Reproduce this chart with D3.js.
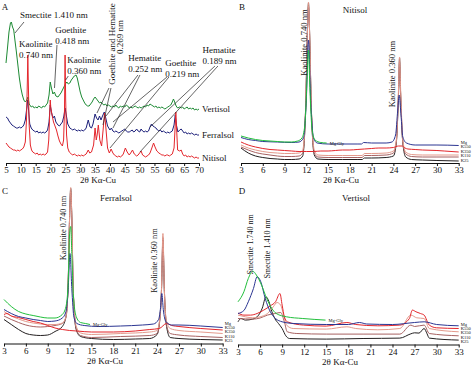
<!DOCTYPE html>
<html>
<head>
<meta charset="utf-8">
<script src="https://cdn.jsdelivr.net/npm/d3@7"></script>
<style>
  body { margin: 0; background: #fff; }
</style>
</head>
<body>
<div id="chart"></div>
<script>
// ---- panel A : bulk XRD, [2theta, intensity]
var ticksA = [5, 10, 15, 20, 25, 30, 35, 40, 45, 50, 55, 60, 65, 70];
var ticksClay = [3, 6, 9, 12, 15, 18, 21, 24, 27, 30, 33];
var soils = ["Vertisol", "Ferralsol", "Nitisol"];
var treatments = ["Mg", "K550", "K350", "K110", "K25"];

var vertisol = [[5,100],[5.5,115],[6,131],[6.5,140],[6.8,141],[7.2,136],[7.6,133],[8,123],[8.5,111],[9,98],[9.5,85],[10,75],[10.5,68],[11,63],[11.5,61],[12,63],[12.4,66],[12.8,59],[13.5,56],[14,57],[14.5,55],[15,56],[15.5,55],[16,57],[16.5,56],[17,55],[17.5,57],[18,56],[18.5,58],[19,60],[19.5,68],[19.9,81],[20.3,75],[20.8,69],[21.3,71],[21.8,67],[22.5,66],[23,68],[23.5,70],[24,73],[24.5,76],[25,79],[25.5,81],[26,79],[26.5,80],[27,83],[27.5,85],[28,87],[28.6,88],[29,85],[29.5,78],[30,71],[30.5,66],[31,63],[31.5,60],[32,58],[32.5,57],[33,57],[33.5,59],[34,61],[34.5,64],[35,66],[35.5,64],[36,62],[36.5,60],[37,61],[37.5,59],[38,58],[38.5,59],[39,57],[39.5,58],[40,57],[40.5,56],[41,57],[41.5,56],[42,58],[42.5,56],[43,55],[43.5,57],[44,56],[44.5,57],[45,56],[45.5,58],[46,57],[46.5,55],[47,56],[47.5,55],[48,56],[48.5,57],[49,56],[49.5,55],[50,56],[50.5,55],[51,56],[51.5,57],[52,56],[52.5,58],[53,57],[53.5,59],[54,58],[54.5,57],[55,56],[55.5,57],[56,55],[56.5,56],[57,55],[57.5,56],[58,55],[58.5,54],[59,55],[59.5,56],[60,57],[60.5,58],[61,61],[61.4,64],[61.8,61],[62.3,57],[62.8,55],[63.5,56],[64,55],[64.5,56],[65,54],[65.5,55],[66,56],[66.5,54],[67,55],[67.5,54],[68,55],[68.5,53],[69,54],[69.5,53],[70,54]];

var ferralsol = [[5,46],[5.5,45],[6,42],[6.5,40],[7,38],[7.5,37],[8,36],[8.5,35],[9,35],[9.5,36],[10,35],[10.5,36],[11,38],[11.5,43],[12,55],[12.3,63],[12.6,53],[13,39],[13.5,35],[14,33],[14.5,32],[15,31],[15.5,32],[16,30],[16.5,31],[17,30],[17.5,31],[18,30],[18.5,31],[19,33],[19.5,41],[19.9,58],[20.3,51],[20.8,45],[21.3,47],[21.8,41],[22.5,38],[23,37],[23.5,39],[24,41],[24.5,47],[24.9,55],[25.3,48],[25.8,39],[26.5,35],[27,34],[27.5,33],[28,34],[28.5,33],[29,32],[29.5,33],[30,32],[30.5,33],[31,32],[31.5,33],[32,35],[32.7,43],[33.3,36],[33.8,35],[34.3,39],[35,49],[35.5,45],[36,43],[36.5,47],[37,43],[37.5,47],[38.1,51],[38.6,45],[39.2,37],[40,33],[40.5,35],[41,32],[41.5,31],[42,32],[42.5,31],[43,30],[43.5,31],[44,32],[44.5,33],[45,34],[45.5,32],[46,31],[46.5,31],[47,32],[47.5,33],[48,31],[48.5,32],[49,34],[49.5,32],[50,31],[50.5,34],[51,32],[51.5,31],[52,32],[52.5,31],[53,32],[53.5,36],[54,39],[54.5,37],[55,36],[55.5,35],[56,33],[56.5,32],[57,33],[57.5,31],[58,32],[58.5,31],[59,30],[59.5,31],[60,30],[60.5,31],[61,32],[61.6,38],[62,48],[62.4,38],[62.9,31],[63.5,33],[64,34],[64.5,32],[65,30],[65.5,31],[66,29],[66.5,30],[67,29],[67.5,30],[68,29],[68.5,28],[69,29],[69.5,28],[70,28]];

var nitisol = [[5,20],[5.5,18],[6,16],[6.5,15],[7,14],[7.5,13],[8,13],[8.5,12],[9,13],[9.5,12],[10,13],[10.5,14],[11,16],[11.5,21],[11.9,43],[12.2,83],[12.35,108],[12.5,83],[12.8,38],[13.2,18],[13.6,13],[14,11],[14.5,10],[15,9],[15.5,10],[16,8],[16.5,9],[17,8],[17.5,9],[18,8],[18.5,9],[19,11],[19.4,23],[19.7,48],[19.9,63],[20.1,55],[20.5,48],[21,41],[21.5,37],[22,33],[22.5,27],[23,22],[23.5,19],[24,17],[24.4,23],[24.7,53],[24.9,108],[25.1,63],[25.4,28],[25.8,15],[26.3,11],[27,9],[27.5,8],[28,9],[28.5,8],[29,7],[29.5,8],[30,7],[30.5,8],[31,7],[31.5,8],[32,9],[32.7,13],[33.2,10],[33.8,11],[34.5,18],[35,35],[35.4,23],[35.7,28],[36.1,38],[36.6,23],[37.2,17],[37.7,33],[38.2,50],[38.7,33],[39.2,15],[39.8,10],[40.4,14],[41,10],[41.5,8],[42,7],[42.5,6],[43,7],[43.5,6],[44,7],[44.5,9],[45.2,15],[45.8,11],[46.5,8],[47,10],[47.6,13],[48.2,9],[49,7],[49.5,8],[50.5,12],[51,8],[51.5,7],[52,6],[52.5,7],[53,8],[53.5,10],[54,14],[54.7,20],[55.2,16],[55.8,12],[56.5,10],[57,9],[57.5,8],[58,8],[58.5,7],[59,8],[59.5,8],[60,7],[60.5,8],[61,9],[61.6,15],[62,38],[62.2,51],[62.4,38],[62.8,13],[63.5,12],[64,13],[64.5,9],[65,7],[65.5,8],[66,6],[66.5,7],[67,6],[67.5,7],[68,6],[68.5,5],[69,6],[69.5,5],[70,5]];

// ---- panel B : Nitisol clay fraction
var nitMgGly = [[3,27],[4,25],[5,23.5],[6,22.5],[7,22],[8,21.5],[9,21],[10,21],[10.8,22],[11.4,25],[11.8,38],[12.1,83],[12.3,113],[12.5,73],[12.8,33],[13.2,23],[14,20.5],[14.8,20]];
var nitMg = [[3,25.5],[4,23.5],[5,22.5],[6,21.5],[8,21],[10,20.5],[11,21],[11.6,25],[12,63],[12.3,123],[12.6,63],[13,25],[13.5,20],[15,19],[17,19],[19,19],[19.6,19],[19.9,20.5],[21,20],[23,20],[23.8,21],[24.3,28],[24.6,53],[24.8,68],[25,53],[25.3,26],[25.8,20],[27,18],[30,18],[33,17.5]];
var nitK550 = [[3,21],[4,18],[5,16],[6,14.5],[7,13.5],[8,13],[9,12.5],[10,12],[11,11.5],[12,11.5],[13,11.5],[14,12],[15,12],[16,12.5],[17,13],[18,13],[19,13.5],[20,14],[21,14.5],[22,15],[23,15],[24,15.5],[24.7,17],[25.2,17],[25.6,15],[26,14],[27,13.5],[28,13],[30,12.5],[31,12],[33,11]];
var nitK350 = [[3,18],[4,15],[5,13],[6,11.5],[7,10.5],[8,10],[9,9.5],[10,9.5],[11,10],[11.5,13],[11.9,53],[12.2,143],[12.3,161],[12.4,143],[12.7,53],[13.1,13],[13.6,8],[15,7.5],[17,7.5],[19,7.5],[19.7,7.5],[20,9.5],[21,9.5],[23,10],[24,12],[24.4,23],[24.7,73],[24.85,106],[25,73],[25.3,23],[25.7,11],[26.5,8.5],[28,8],[30,8],[33,8]];
var nitK110 = [[3,16],[4,13],[5,10.5],[6,9],[7,8],[8,7],[9,6.5],[10,6.5],[11,7],[11.5,10],[11.9,53],[12.2,143],[12.3,157],[12.4,143],[12.7,53],[13.1,10],[13.6,6],[15,5.5],[17,5.5],[19,5.5],[19.7,5.5],[20,7.5],[21,7.5],[23,8],[24,10],[24.4,21],[24.7,68],[24.85,101],[25,68],[25.3,21],[25.7,9],[26.5,6.5],[28,6],[30,6],[33,6]];
var nitK25 = [[3,15],[4,10],[5,7],[6,5.5],[7,4.5],[8,4],[9,3.5],[10,3.5],[11,4],[11.5,7],[11.9,53],[12.2,143],[12.3,160],[12.4,143],[12.7,53],[13.1,8],[13.6,4],[15,3.5],[17,3.5],[19,3.5],[19.7,3.5],[20,5],[21,5],[23,5.5],[24,7],[24.4,20],[24.7,68],[24.85,105],[25,68],[25.3,20],[25.7,6],[26.5,3.5],[28,3],[30,2.5],[33,2]];

// ---- panel C : Ferralsol clay fraction
var ferMgGly = [[3,44],[4,37],[5,32],[6,29.5],[7,28],[8,26.5],[9,25.5],[10,25.5],[11,29],[11.5,37],[11.8,60],[12,110],[12.15,117],[12.3,90],[12.5,50],[12.9,27],[13.5,21],[14.2,20],[14.8,19]];
var ferMg = [[3,34],[4,30],[5,27],[6,25.5],[7,24],[8,23],[9,22],[10,22.5],[11,25.5],[11.5,32],[11.8,54],[12.05,90],[12.3,55],[12.6,26],[13,20],[14,18],[16,17],[19,17.5],[22,18.5],[23.5,19.5],[24.2,24],[24.45,34],[24.65,50],[24.85,34],[25.2,22],[26,18.5],[27,18.5],[30,17.5],[33,16]];
var ferK550 = [[3,29],[3.4,30],[4,27.5],[5,26],[6,24],[7,22],[8,20.5],[9,18],[10,15.5],[11,14],[12,13],[13,12.5],[15,11.5],[18,11.5],[21,12.5],[23,14],[24.3,15],[25.3,20],[26,18],[27,17],[30,15],[33,13.5]];
var ferK350 = [[3,32],[4,27.5],[5,24.5],[6,22],[7,20.5],[8,19.5],[9,19],[10,19],[11,20.5],[11.5,27],[11.8,60],[12,127],[12.15,156],[12.3,127],[12.5,53],[12.9,17.5],[13.5,10.5],[15,9],[19,10],[23,11.5],[24,13],[24.4,27],[24.6,53],[24.8,110],[25,53],[25.3,22],[25.8,15],[27,13],[30,11.5],[33,10]];
var ferK110 = [[3,27.5],[4,24],[5,21],[6,18.5],[7,17],[8,16.5],[9,17],[10,18],[11,20],[11.5,26],[11.8,60],[12,127],[12.15,152],[12.3,127],[12.5,53],[12.9,15],[13.5,8],[15,6],[19,7],[23,8],[24,10],[24.4,25],[24.6,52],[24.8,106],[25,52],[25.3,18],[25.8,10],[27,8.5],[30,7],[33,6]];
var ferK25 = [[3,24],[4,19],[5,14],[6,10],[7,8.5],[8,8],[9,8.5],[10,12],[11,17],[11.5,27],[11.8,60],[12,127],[12.15,155],[12.3,127],[12.5,53],[12.9,14],[13.5,7],[15,5],[18,4],[21,4.5],[23,5],[24,9],[24.4,27],[24.6,53],[24.8,103],[25,53],[25.3,17],[25.8,6],[27,5],[30,4],[33,3.5]];

// ---- panel D : Vertisol clay fraction
var verMgGly = [[3,42.7],[3.8,52.7],[4.4,66],[5,73.4],[5.5,69.4],[6.2,59.4],[6.9,46],[7.6,36],[8.2,31],[9.6,27.7],[11.8,26],[14.9,24.4]];
var verMg = [[3,31],[3.8,34],[4.4,42.7],[5.1,56],[5.6,67.7],[6.1,62.7],[6.7,46],[7.4,32.7],[8.1,26],[9,22.7],[10.6,21],[15,20],[18,20],[19.5,22],[20.5,20.5],[24,20],[27,22],[28.3,22.7],[30,20],[33,18.7]];
var verK550 = [[3,31.4],[3.8,29.4],[4.7,29.4],[5.6,31],[6.5,34.4],[7.4,38.7],[8.1,42.7],[8.7,51],[9,39.4],[9.3,27.7],[9.7,22.7],[11.9,19.4],[15,18.4],[17.8,22],[19,20],[22,18.7],[25,19.4],[26.3,26],[26.7,34.4],[27.2,32.7],[27.8,31],[28.3,29.4],[29,19.4],[30,16.7],[33,16]];
var verK350 = [[3,29.4],[4,27.7],[5,26.7],[6,27.7],[7,31],[7.8,37.7],[8.3,42],[8.8,39.4],[9.2,29.4],[9.6,19.4],[10.5,16],[15,15.4],[17.8,17.7],[19,16],[22,14.7],[25,16],[26.5,29.4],[27.3,26.7],[28.3,26],[29,16],[33,12.7]];
var verK110 = [[3,26],[5,25.4],[6,26.5],[7,29.4],[8,31],[8.8,32],[9.3,22.7],[9.7,12.7],[11,11],[15,10.4],[20,10.4],[25,10.4],[26.5,19.4],[27,18],[28.3,19.4],[29,11],[33,8.7]];
var verK25 = [[3,22.7],[3.4,26],[4,24.4],[5,25.4],[5.8,29.4],[6.3,36.4],[6.8,47.7],[7.2,43],[7.6,33],[8,26],[8.5,21],[9,16],[9.5,8.7],[10,6],[15,5.4],[20,6],[25,6.4],[26.5,10.7],[27,11.7],[27.6,11.4],[28.3,16],[28.7,10.7],[29,6.4],[33,4.4]];

var soilColors = ["#1d8a34", "#1c1f7a", "#e4262c"];
// Mg-Gly, Mg, K550, K350, K110, K25
var clayColors = ["#22bf3c", "#2b3592", "#e3262b", "#e49a8c", "#a86262", "#231f20"];

var FONT = '"Liberation Serif", "Times New Roman", serif';

var svg = d3.select("#chart").append("svg")
  .attr("width", 474).attr("height", 366)
  .style("font-family", FONT);

function text(g, x, y, s, size, anchor) {
  return g.append("text")
    .attr("x", x).attr("y", y)
    .attr("font-size", size)
    .attr("text-anchor", anchor || "start")
    .attr("fill", "#111")
    .text(s);
}

function vtext(g, x, y, s, size) {
  g.append("text")
    .attr("transform", "translate(" + x + "," + y + ") rotate(-90)")
    .attr("font-size", size)
    .attr("text-anchor", "middle")
    .attr("dominant-baseline", "central")
    .attr("fill", "#111")
    .text(s);
}

function drawAxis(g, x, y0, ticks) {
  var ax = g.append("g")
    .attr("transform", "translate(0," + y0 + ")")
    .call(d3.axisBottom(x).tickValues(ticks).tickSize(3).tickSizeOuter(0).tickPadding(1));
  ax.attr("font-family", FONT).attr("font-size", 9);
  ax.selectAll("text").attr("fill", "#111");
  ax.selectAll("line, path").attr("stroke", "#111");
}

function drawSeries(g, x, y, data, color, width, smooth) {
  var gen = d3.line()
    .x(function(d) { return x(d[0]); })
    .y(function(d) { return y(d[1]); });
  if (smooth) gen.curve(d3.curveMonotoneX);
  g.append("path")
    .datum(data)
    .attr("fill", "none")
    .attr("stroke", color)
    .attr("stroke-width", width)
    .attr("stroke-linejoin", "round")
    .attr("d", gen);
}

// ---------------- panel A
var xA = d3.scaleLinear().domain([5, 70]).range([6, 199]);
var yA = d3.scaleLinear().domain([0, 163]).range([163, 0]);
var gA = svg.append("g");

var notesA = [
  { lines: ["Smectite 1.410 nm"], at: [9.7, 145], leaders: [[[11.06, 141], [8.03, 130]]] },
  { lines: ["Kaolinite", "0.740 nm"], at: [9.4, 116], leaders: [] },
  { lines: ["Goethite", "0.418 nm"], at: [21.6, 130], leaders: [[[22.17, 118], [21.33, 75]]] },
  { lines: ["Kaolinite", "0.360 nm"], at: [25.6, 100], leaders: [[[25.98, 87], [25.1, 83]]] },
  { lines: ["Hematite", "0.252 nm"], at: [46.2, 102], leaders: [[[49.44, 88], [38.67, 47]], [[50.12, 88], [41.03, 35]]] },
  { lines: ["Goethite", "0.219 nm"], at: [58.6, 97], leaders: [[[59.21, 86], [41.03, 41]], [[59.88, 86], [40.02, 15]]] },
  { lines: ["Hematite", "0.189 nm"], at: [71.2, 110], leaders: [[[75.37, 97], [53.48, 36]], [[76.38, 97], [50.12, 11]]] }
];
var gh = { lines: ["Goethite and Hematite", "0.269 nm"], at: [[40.6, 119], [43.4, 126]],
  leaders: [[[39.68, 75], [35.64, 50]], [[40.35, 75], [37.66, 38]]] };

[vertisol, ferralsol, nitisol].forEach(function(s, i) {
  drawSeries(gA, xA, yA, s, soilColors[i], 1, false);
  var last = s[s.length - 1];
  text(gA, xA(last[0]) + 3, yA(last[1]) + 3, soils[i], 9);
});

var leaderLine = d3.line().x(function(d) { return xA(d[0]); }).y(function(d) { return yA(d[1]); });
notesA.concat([gh]).forEach(function(n) {
  n.leaders.forEach(function(l) {
    gA.append("path").attr("d", leaderLine(l)).attr("stroke", "#222").attr("stroke-width", 0.7).attr("fill", "none");
  });
});
notesA.forEach(function(n) {
  n.lines.forEach(function(s, k) {
    text(gA, xA(n.at[0]), yA(n.at[1]) + k * 10.5, s, 9);
  });
});
vtext(gA, xA(gh.at[0][0]), yA(gh.at[0][1]), gh.lines[0], 9);
vtext(gA, xA(gh.at[1][0]), yA(gh.at[1][1]), gh.lines[1], 9);

drawAxis(gA, xA, 163, ticksA);
text(gA, 5, 10, "A", 9, "middle");
text(gA, 98, 182.5, "2θ Kα-Cu", 9, "middle");

// ---------------- panels B, C, D
function clayPanel(letter, title, xr, axisY, series, notes, letterPos, titlePos, axisTitlePos, noteSize) {
  var x = d3.scaleLinear().domain([3, 33]).range(xr);
  var y = d3.scaleLinear().domain([0, 160]).range([axisY, axisY - 160]);
  var g = svg.append("g");
  // draw K25 first so the lighter curves sit on top
  for (var i = series.length - 1; i >= 0; i--) {
    drawSeries(g, x, y, series[i], clayColors[i], 1, true);
  }
  var gly = series[0][series[0].length - 1];
  text(g, x(gly[0]) + 3, y(gly[1]) + 1.5, "Mg-Gly", 4.5);
  treatments.forEach(function(t, k) {
    text(g, x(33) + 2, axisY - 19 + k * 4.4, t, 4.5);
  });
  notes.forEach(function(n) {
    vtext(g, x(n.at[0]), y(n.at[1]), n.label, noteSize);
  });
  drawAxis(g, x, axisY, ticksClay);
  text(g, letterPos[0], letterPos[1], letter, 9, "middle");
  text(g, titlePos[0], titlePos[1], title, 9, "middle");
  text(g, axisTitlePos[0], axisTitlePos[1], "2θ Kα-Cu", 9, "middle");
}

clayPanel("B", "Nitisol", [241, 458.7], 163,
  [nitMgGly, nitMg, nitK550, nitK350, nitK110, nitK25],
  [{ label: "Kaolinite 0.740 nm", at: [11.64, 120.5] }, { label: "Kaolinite 0.360 nm", at: [23.81, 89] }],
  [242, 10], [355, 13], [341, 182.5], 8.6);

clayPanel("C", "Ferralsol", [4, 222.7], 343.5,
  [ferMgGly, ferMg, ferK550, ferK350, ferK110, ferK25],
  [{ label: "Kaolinite 0.740 nm", at: [11.13, 115.5] }, { label: "Kaolinite 0.360 nm", at: [23.71, 83] }],
  [5, 194], [116, 201], [105, 364], 8.3);

clayPanel("D", "Vertisol", [238, 458.7], 344.5,
  [verMgGly, verMg, verK550, verK350, verK110, verK25],
  [{ label: "Smectite 1.740 nm", at: [4.67, 100] }, { label: "Smectite 1.410 nm", at: [7.04, 96] }],
  [242, 194], [356, 201], [340, 365], 8);
</script>
</body>
</html>
